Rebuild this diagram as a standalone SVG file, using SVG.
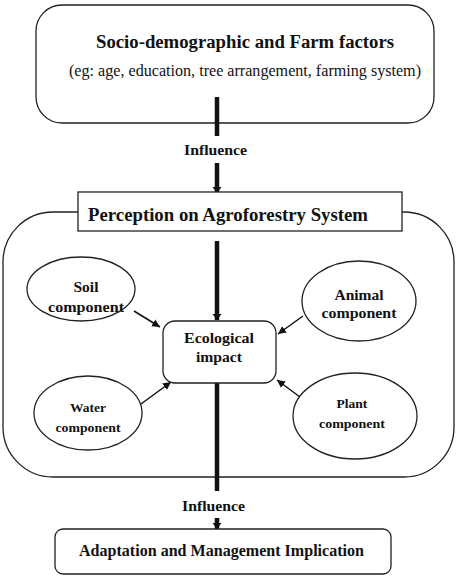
<svg xmlns="http://www.w3.org/2000/svg" width="474" height="581" viewBox="0 0 474 581">
<style>
.box{fill:#fff;stroke:#222;stroke-width:1.3}
.ell{fill:#fff;stroke:#222;stroke-width:1.3}
.t{font-family:"Liberation Serif","Times New Roman",serif;font-weight:bold;fill:#111;text-anchor:middle}
.r{font-family:"Liberation Serif","Times New Roman",serif;fill:#111;text-anchor:middle}
.thick{stroke:#111;stroke-width:4.5;fill:none}
.thin{stroke:#111;stroke-width:1.5;fill:none}
</style>
<defs>
<marker id="ah" markerWidth="10" markerHeight="10" refX="8" refY="5" orient="auto" markerUnits="userSpaceOnUse">
<path d="M0,1 L8,5 L0,9 Z" fill="#111"/>
</marker>
<marker id="ahb" markerWidth="10" markerHeight="10" refX="6" refY="5" orient="auto" markerUnits="userSpaceOnUse">
<path d="M0,0.5 L6,5 L0,9.5 Z" fill="#111"/>
</marker>
</defs>
<rect x="0" y="0" width="474" height="581" fill="#fff"/>
<g id="outer"><rect class="box" x="3" y="212" width="451" height="265" rx="50" ry="50"/></g>
<g id="top"><rect class="box" x="36" y="5" width="398" height="118" rx="26" ry="26"/>
<text class="t" x="245" y="48" font-size="18.5" textLength="298" lengthAdjust="spacingAndGlyphs">Socio-demographic and Farm factors</text>
<text class="r" x="245" y="76" font-size="16" textLength="352" lengthAdjust="spacingAndGlyphs">(eg: age, education, tree arrangement, farming system)</text></g>
<g id="connectors">
<line class="thick" x1="217" y1="97" x2="217" y2="136"/>
<line class="thick" x1="217" y1="163" x2="217" y2="193" marker-end="url(#ahb)"/>
<line class="thick" x1="217" y1="241" x2="217" y2="320" marker-end="url(#ahb)"/>
<line class="thick" x1="217" y1="383" x2="217" y2="491"/>
<line class="thick" x1="217" y1="518" x2="217" y2="529" marker-end="url(#ahb)"/>
<line class="thin" x1="134" y1="311" x2="160" y2="327" marker-end="url(#ah)"/>
<line class="thin" x1="303" y1="316" x2="278" y2="334" marker-end="url(#ah)"/>
<line class="thin" x1="141" y1="404" x2="171" y2="382" marker-end="url(#ah)"/>
<line class="thin" x1="300" y1="397" x2="277" y2="380" marker-end="url(#ah)"/>
</g>
<g id="influence1"><text class="t" x="215.5" y="155" font-size="15.5" textLength="63" lengthAdjust="spacingAndGlyphs">Influence</text></g>
<g id="perception"><rect class="box" x="78" y="192" width="324" height="39"/>
<text class="t" x="228" y="221" font-size="18.5" textLength="280" lengthAdjust="spacingAndGlyphs">Perception on Agroforestry System</text></g>
<g id="ecological"><rect class="box" x="163" y="321" width="113" height="62" rx="12" ry="12"/>
<text class="t" x="219" y="343" font-size="15.5" textLength="70" lengthAdjust="spacingAndGlyphs">Ecological</text>
<text class="t" x="219" y="362" font-size="15.5" textLength="46" lengthAdjust="spacingAndGlyphs">impact</text></g>
<g id="soil"><ellipse class="ell" cx="81" cy="289" rx="54" ry="32"/>
<text class="t" x="86" y="292" font-size="15.5">Soil</text>
<text class="t" x="86" y="312" font-size="15.5" textLength="76" lengthAdjust="spacingAndGlyphs">component</text></g>
<g id="animal"><ellipse class="ell" cx="359" cy="301" rx="57" ry="40"/>
<text class="t" x="359" y="300" font-size="15.5">Animal</text>
<text class="t" x="359" y="318" font-size="15.5" textLength="75" lengthAdjust="spacingAndGlyphs">component</text></g>
<g id="water"><ellipse class="ell" cx="88" cy="413" rx="54" ry="37"/>
<text class="t" x="88" y="412" font-size="13.5">Water</text>
<text class="t" x="88" y="432" font-size="13.5" textLength="65" lengthAdjust="spacingAndGlyphs">component</text></g>
<g id="plant"><ellipse class="ell" cx="355" cy="416" rx="62" ry="43"/>
<text class="t" x="352" y="408" font-size="13.5">Plant</text>
<text class="t" x="352" y="428" font-size="13.5" textLength="66" lengthAdjust="spacingAndGlyphs">component</text></g>
<g id="influence2"><text class="t" x="213.5" y="511" font-size="15.5" textLength="63" lengthAdjust="spacingAndGlyphs">Influence</text></g>
<g id="adaptation"><rect class="box" x="55" y="529" width="336" height="45" rx="8" ry="8"/>
<text class="t" x="221.5" y="556" font-size="16" textLength="285" lengthAdjust="spacingAndGlyphs">Adaptation and Management Implication</text></g>
</svg>
